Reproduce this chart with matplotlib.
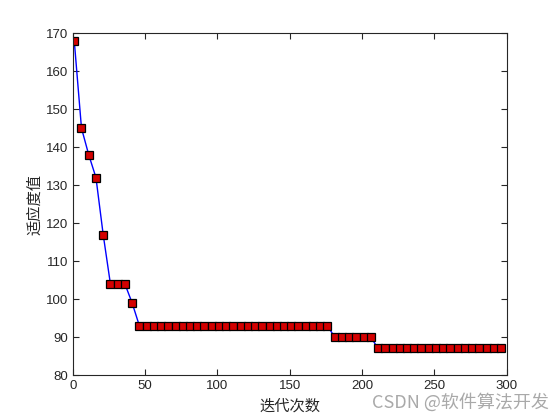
import matplotlib
matplotlib.use('Agg')
import matplotlib.pyplot as plt

# iteration index (every 5th iteration is plotted)
iters = list(range(1, 300, 5))
fitness = [168, 145, 138, 132, 117, 104, 104, 104, 99,
           93, 93, 93, 93, 93, 93, 93, 93, 93, 93, 93, 93, 93, 93,
           93, 93, 93, 93, 93, 93, 93, 93, 93, 93, 93, 93, 93,
           90, 90, 90, 90, 90, 90,
           87, 87, 87, 87, 87, 87, 87, 87, 87, 87, 87, 87, 87, 87, 87, 87, 87, 87]

xlabel = '迭代次数'
ylabel = '适应度值'
watermark = 'CSDN @软件算法开发'

plt.rcParams['font.family'] = ['Liberation Sans', 'Noto Sans CJK SC', 'DejaVu Sans']
dark = '#262626'

fig = plt.figure(figsize=(5.6, 4.2), dpi=100)
ax = fig.add_axes([0.13, 0.107, 0.775, 0.814])
ax.plot(iters, fitness, color='blue', lw=1.0, marker='s', markersize=5.3,
        markerfacecolor='#d40000', markeredgecolor='black', markeredgewidth=0.9)

ax.set_xlim(0, 300)
ax.set_ylim(80, 170)
ax.set_xticks(range(0, 301, 50))
ax.set_yticks(range(80, 171, 10))
ax.tick_params(direction='in', top=True, right=True, labelsize=9.5, length=4,
               width=0.8, colors=dark)
for s in ax.spines.values():
    s.set_linewidth(0.8)
    s.set_color(dark)

cjk = ['Noto Sans CJK SC', 'DejaVu Sans']
ax.set_xlabel(xlabel, family=cjk, fontsize=11, labelpad=4, color=dark)
ax.set_ylabel(ylabel, family=cjk, fontsize=11, labelpad=2, color=dark)

fig.text(0.98, 0.02, watermark, family=cjk, fontsize=13, color='#a0a0a0',
         ha='right', va='bottom', alpha=0.9)

fig.savefig('out.png', dpi=100)
